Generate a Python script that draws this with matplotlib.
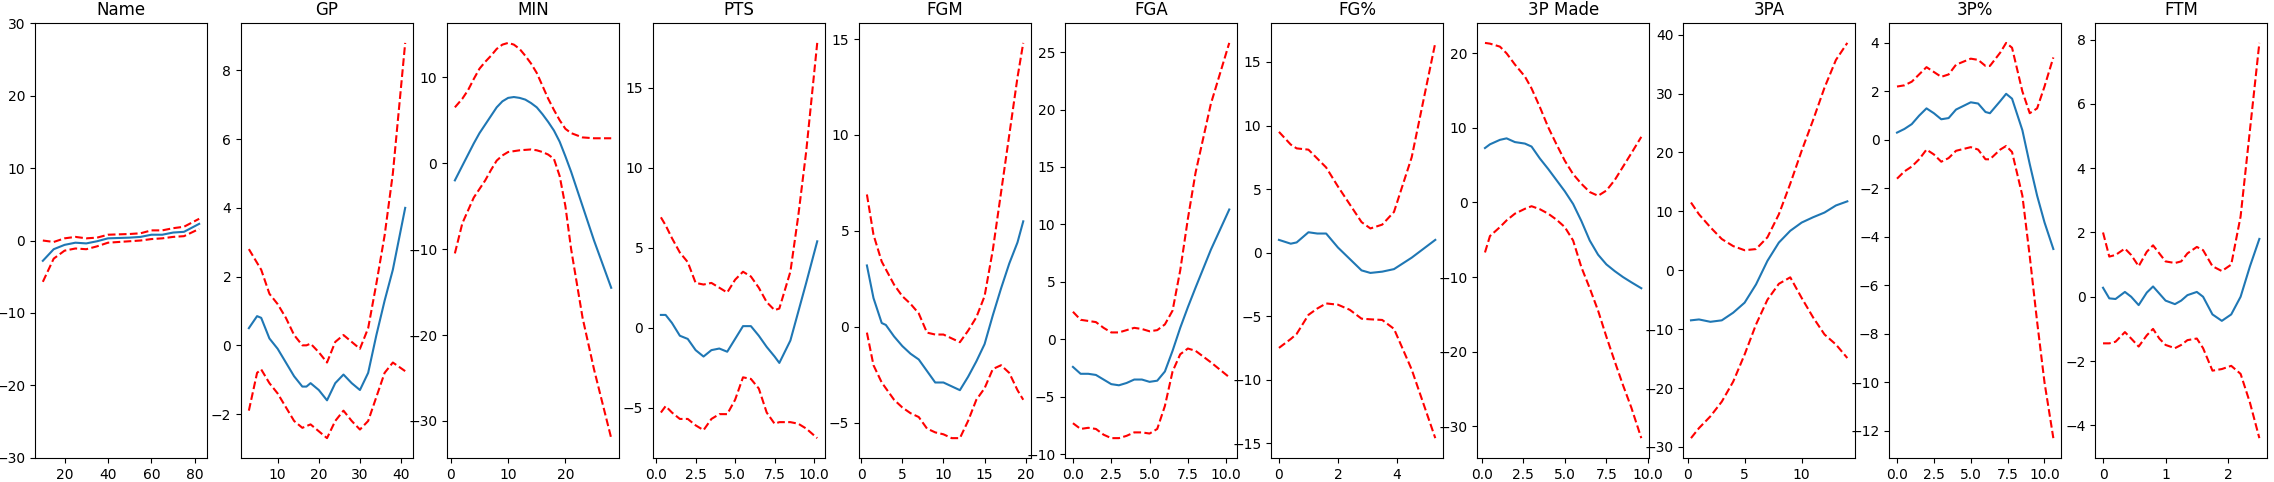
import numpy as np
import matplotlib
matplotlib.use("Agg")
import matplotlib.pyplot as plt

titles = ["Name", "GP", "MIN", "PTS", "FGM", "FGA", "FG%", "3P Made", "3PA", "3P%", "FTM"]

# Name
name_x = [10, 15, 20, 25, 30, 35, 40, 50, 55, 60, 65, 70, 75, 82]
name_c = [-2.8, -1.2, -0.6, -0.3, -0.4, -0.1, 0.3, 0.4, 0.5, 0.8, 0.8, 1.1, 1.2, 2.3]
name_u = [0.0, -0.2, 0.3, 0.5, 0.3, 0.4, 0.8, 0.9, 1.0, 1.4, 1.4, 1.7, 1.9, 3.0]
name_l = [-5.7, -2.5, -1.4, -1.1, -1.2, -0.8, -0.3, -0.1, 0.0, 0.2, 0.3, 0.5, 0.6, 1.6]

# GP
gp_x = [3, 5, 6, 8, 10, 12, 14, 16, 17, 18, 20, 22, 24, 26, 28, 30, 32, 34, 36, 38, 41]
gp_c = [0.5, 0.85, 0.8, 0.2, -0.1, -0.5, -0.9, -1.2, -1.2, -1.1, -1.3, -1.6, -1.1, -0.85, -1.1, -1.3, -0.8, 0.3, 1.3, 2.2, 4.0]
gp_u = [2.8, 2.4, 2.2, 1.5, 1.2, 0.8, 0.3, 0.0, 0.0, 0.05, -0.2, -0.5, 0.1, 0.3, 0.1, -0.1, 0.5, 1.8, 3.2, 5.0, 8.8]
gp_l = [-1.9, -0.8, -0.7, -1.1, -1.4, -1.8, -2.2, -2.4, -2.35, -2.3, -2.5, -2.7, -2.2, -1.9, -2.2, -2.45, -2.2, -1.5, -0.8, -0.5, -0.75]

# MIN
min_x = [0.7, 2, 3, 4, 5, 6, 7, 8, 9, 10, 11, 12, 13, 14, 15, 16, 17, 18, 19, 20, 21, 23, 25, 28]
min_c = [-2, -0.3, 1, 2.3, 3.5, 4.5, 5.5, 6.5, 7.2, 7.6, 7.7, 7.6, 7.4, 7.0, 6.5, 5.7, 4.8, 3.8, 2.5, 0.8, -1, -5, -9, -14.5]
min_u = [6.5, 7.5, 8.5, 9.8, 11, 11.8, 12.5, 13.3, 13.8, 14, 13.8, 13.3, 12.5, 11.6, 10.5, 9.0, 7.5, 6.2, 5.0, 4.0, 3.5, 3.0, 2.9, 2.9]
min_l = [-10.5, -7, -5.5, -4, -3, -2, -0.8, 0.3, 0.9, 1.3, 1.4, 1.5, 1.55, 1.6, 1.5, 1.3, 1.0, 0.5, -1.5, -5, -10, -18, -24, -32]

# PTS
pts_x = [0.3, 0.6, 1, 1.5, 2, 2.5, 3, 3.5, 4, 4.5, 5, 5.5, 6, 6.5, 7, 7.5, 7.8, 8.5, 9, 9.5, 10.2]
pts_c = [0.8, 0.8, 0.3, -0.5, -0.7, -1.4, -1.8, -1.4, -1.3, -1.5, -0.7, 0.1, 0.1, -0.5, -1.2, -1.8, -2.2, -0.8, 1.0, 2.8, 5.4]
pts_u = [6.9, 6.4, 5.6, 4.7, 4.1, 2.8, 2.7, 2.8, 2.5, 2.2, 3.0, 3.5, 3.2, 2.5, 1.6, 1.1, 1.2, 3.5, 7.0, 11.0, 17.8]
pts_l = [-5.3, -4.9, -5.3, -5.7, -5.7, -6.1, -6.4, -5.7, -5.4, -5.4, -4.5, -3.1, -3.2, -3.8, -5.3, -6.0, -5.9, -5.9, -6.0, -6.3, -6.9]

# FGM
fgm_x = [0.7, 1.5, 2.5, 3, 4, 5, 6, 7, 8, 9, 10, 11, 12, 13, 14, 15, 16, 17, 18, 19, 19.7]
fgm_c = [3.2, 1.5, 0.2, 0.1, -0.5, -1.0, -1.4, -1.7, -2.3, -2.9, -2.9, -3.1, -3.3, -2.6, -1.8, -0.9, 0.6, 2.0, 3.3, 4.4, 5.5]
fgm_u = [6.9, 4.8, 3.4, 3.0, 2.2, 1.6, 1.2, 0.7, -0.3, -0.4, -0.4, -0.6, -0.8, -0.2, 0.5, 1.6, 4.0, 7.0, 10.0, 13.0, 14.8]
fgm_l = [-0.3, -2.0, -2.9, -3.2, -3.8, -4.2, -4.5, -4.7, -5.3, -5.5, -5.6, -5.8, -5.8, -4.9, -3.8, -3.2, -2.2, -2.0, -2.4, -3.3, -3.8]

# FGA
fga_x = [0, 0.5, 1, 1.5, 2, 2.5, 3, 3.5, 4, 4.5, 5, 5.5, 6, 6.5, 7, 7.5, 8, 9, 10.2]
fga_c = [-2.4, -3.0, -3.0, -3.1, -3.5, -3.9, -4.0, -3.8, -3.5, -3.5, -3.7, -3.6, -2.8, -1.0, 1.0, 2.8, 4.5, 7.8, 11.3]
fga_u = [2.4, 1.7, 1.6, 1.5, 1.0, 0.6, 0.6, 0.8, 1.0, 0.9, 0.7, 0.8, 1.3, 2.5, 6.0, 10.5, 14.5, 20.5, 25.8]
fga_l = [-7.3, -7.8, -7.7, -7.8, -8.3, -8.6, -8.6, -8.4, -8.1, -8.1, -8.2, -7.8, -5.8, -2.8, -1.3, -0.8, -1.0, -2.0, -3.3]

# FG%
fgp_x = [0, 0.4, 0.6, 1, 1.3, 1.6, 2, 2.4, 2.8, 3.1, 3.5, 3.9, 4.5, 5.3]
fgp_c = [1.0, 0.7, 0.8, 1.6, 1.5, 1.5, 0.4, -0.5, -1.4, -1.6, -1.5, -1.3, -0.4, 1.0]
fgp_u = [9.5, 8.5, 8.2, 8.1, 7.4, 6.7, 5.2, 3.8, 2.4, 1.9, 2.2, 3.2, 7.5, 16.5]
fgp_l = [-7.5, -6.8, -6.4, -4.9, -4.4, -4.0, -4.1, -4.5, -5.2, -5.25, -5.3, -6.0, -9.2, -14.6]

# 3P Made
p3m_x = [0.2, 0.5, 1.1, 1.5, 2, 2.6, 3, 3.5, 4, 4.5, 5, 5.5, 6, 6.5, 7, 7.5, 8, 8.5, 9, 9.6]
p3m_c = [7.3, 7.8, 8.4, 8.6, 8.1, 7.9, 7.5, 5.9, 4.5, 3.0, 1.5, -0.2, -2.5, -5.1, -7.0, -8.3, -9.2, -10.0, -10.7, -11.5]
p3m_u = [21.4, 21.3, 20.9, 20.0, 18.5, 16.9, 15.3, 12.8, 10.1, 7.8, 5.6, 3.8, 2.5, 1.4, 0.9, 1.6, 3.0, 4.8, 6.6, 8.8]
p3m_l = [-6.7, -4.5, -3.3, -2.4, -1.5, -0.85, -0.5, -0.9, -1.5, -2.3, -3.3, -5.1, -8.7, -11.5, -14.5, -18.0, -21.3, -24.5, -27.5, -31.6]

# 3PA
p3a_x = [0.3, 1, 2, 3, 4, 5, 6, 7, 8, 9, 10, 11, 12, 13, 14]
p3a_c = [-8.5, -8.35, -8.75, -8.5, -7.2, -5.5, -2.4, 1.6, 4.7, 6.7, 8.1, 9.0, 9.8, 11.0, 11.7]
p3a_u = [11.5, 9.5, 7.3, 5.3, 4.1, 3.4, 3.6, 5.6, 9.5, 14.7, 20.3, 25.5, 31.0, 35.7, 38.6]
p3a_l = [-28.5, -26.8, -24.8, -22.3, -18.9, -14.3, -9.2, -5.0, -2.3, -1.2, -4.7, -8.0, -10.9, -12.6, -14.9]

# 3P%
p3p_x = [0, 0.5, 1, 1.5, 2, 2.5, 3, 3.5, 4, 5, 5.5, 6, 6.3, 7, 7.4, 7.8, 8.5, 9, 9.5, 10, 10.6]
p3p_c = [0.3, 0.45, 0.65, 1.0, 1.3, 1.1, 0.85, 0.9, 1.25, 1.55, 1.5, 1.15, 1.1, 1.6, 1.9, 1.7, 0.4, -1.0, -2.3, -3.4, -4.5]
p3p_u = [2.2, 2.25, 2.4, 2.7, 3.0, 2.8, 2.6, 2.7, 3.1, 3.35, 3.3, 3.05, 3.05, 3.6, 4.0, 3.8, 2.0, 1.1, 1.3, 2.2, 3.4]
p3p_l = [-1.6, -1.3, -1.1, -0.8, -0.4, -0.6, -0.9, -0.75, -0.45, -0.3, -0.4, -0.8, -0.8, -0.4, -0.25, -0.5, -2.3, -4.8, -7.5, -10.0, -12.3]

# FTM
ftm_x = [0, 0.1, 0.2, 0.35, 0.45, 0.57, 0.7, 0.8, 0.9, 1.0, 1.15, 1.25, 1.35, 1.5, 1.6, 1.75, 1.9, 2.05, 2.2, 2.35, 2.5]
ftm_c = [0.28, -0.05, -0.07, 0.15, 0.0, -0.26, 0.13, 0.32, 0.1, -0.12, -0.23, -0.12, 0.05, 0.15, 0.0, -0.55, -0.75, -0.55, 0.0, 0.95, 1.8]
ftm_u = [2.0, 1.25, 1.3, 1.5, 1.3, 0.95, 1.4, 1.6, 1.35, 1.1, 1.05, 1.1, 1.35, 1.55, 1.45, 0.95, 0.8, 1.0, 2.5, 5.2, 7.9]
ftm_l = [-1.45, -1.45, -1.4, -1.1, -1.3, -1.55, -1.2, -1.0, -1.3, -1.5, -1.6, -1.5, -1.35, -1.3, -1.6, -2.3, -2.25, -2.15, -2.4, -3.3, -4.4]

xs = [name_x, gp_x, min_x, pts_x, fgm_x, fga_x, fgp_x, p3m_x, p3a_x, p3p_x, ftm_x]
centers = [name_c, gp_c, min_c, pts_c, fgm_c, fga_c, fgp_c, p3m_c, p3a_c, p3p_c, ftm_c]
uppers = [name_u, gp_u, min_u, pts_u, fgm_u, fga_u, fgp_u, p3m_u, p3a_u, p3p_u, ftm_u]
lowers = [name_l, gp_l, min_l, pts_l, fgm_l, fga_l, fgp_l, p3m_l, p3a_l, p3p_l, ftm_l]

step25 = [0, 2.5, 5, 7.5, 10]
xticks = [[20, 40, 60, 80], [10, 20, 30, 40], [0, 10, 20], step25, [0, 5, 10, 15, 20],
          step25, [0, 2, 4], step25, [0, 5, 10], step25, [0, 1, 2]]

fig, axs = plt.subplots(1, 11, figsize=(22.74, 4.82), dpi=100)
fig.subplots_adjust(left=0.0154, right=0.997, top=0.952, bottom=0.05, wspace=0.198)

for i, ax in enumerate(axs):
    ax.plot(xs[i], centers[i])
    ax.plot(xs[i], uppers[i], c="r", ls="--")
    ax.plot(xs[i], lowers[i], c="r", ls="--")
    ax.set_title(titles[i])
    ax.set_xticks(xticks[i])

axs[0].set_ylim(-30, 30)

fig.savefig("out.png")
